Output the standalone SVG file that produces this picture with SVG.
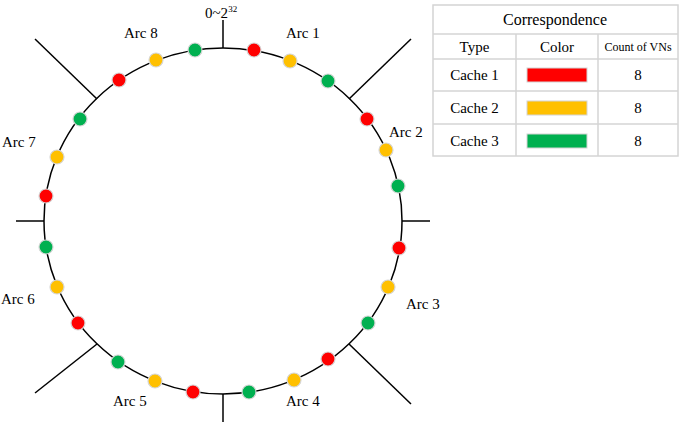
<svg xmlns="http://www.w3.org/2000/svg" width="685" height="423" viewBox="0 0 685 423">
<style>
text{font-family:"Liberation Serif","Times New Roman",serif;fill:#000}
.lbl{font-size:15px}
.ring{fill:none;stroke:#000;stroke-width:1.5}
.ln{stroke:#000;stroke-width:1.5;fill:none}
.r{fill:#FF0000}.y{fill:#FFC000}.g{fill:#00B050}
.dot{stroke:#d6d6d6;stroke-width:1.2}
.tb{fill:none;stroke:#d4d4d4;stroke-width:1.5}
.t{font-size:15px;text-anchor:middle}
.ts{font-size:12px;text-anchor:middle}
.sw{stroke:#d4d4d4;stroke-width:1}
</style>
<rect width="685" height="423" fill="#fff"/>
<g id="connectors">
<ellipse class="ring" cx="223" cy="221" rx="179" ry="173"/>
<line class="ln" x1="223" y1="20" x2="223" y2="48"/>
<line class="ln" x1="223" y1="394" x2="223" y2="422"/>
<line class="ln" x1="16" y1="221" x2="44" y2="221"/>
<line class="ln" x1="402" y1="221" x2="430" y2="221"/>
<line class="ln" x1="97" y1="99" x2="35" y2="39"/>
<line class="ln" x1="349" y1="99" x2="411" y2="39"/>
<line class="ln" x1="97" y1="344" x2="35" y2="393"/>
<line class="ln" x1="349" y1="344" x2="411" y2="404"/>
</g>
<g id="nodes">
<circle class="dot g" cx="195" cy="50" r="7"/>
<circle class="dot r" cx="254" cy="50" r="7"/>
<circle class="dot y" cx="290" cy="61" r="7"/>
<circle class="dot g" cx="328" cy="81" r="7"/>
<circle class="dot r" cx="367" cy="119" r="7"/>
<circle class="dot y" cx="386" cy="150" r="7"/>
<circle class="dot g" cx="398" cy="186" r="7"/>
<circle class="dot r" cx="399" cy="248" r="7"/>
<circle class="dot y" cx="388" cy="287" r="7"/>
<circle class="dot g" cx="368" cy="323" r="7"/>
<circle class="dot r" cx="328" cy="359" r="7"/>
<circle class="dot y" cx="294" cy="380" r="7"/>
<circle class="dot g" cx="249" cy="392" r="7"/>
<circle class="dot r" cx="193" cy="392" r="7"/>
<circle class="dot y" cx="155" cy="381" r="7"/>
<circle class="dot g" cx="118" cy="362" r="7"/>
<circle class="dot r" cx="78" cy="323" r="7"/>
<circle class="dot y" cx="57" cy="287" r="7"/>
<circle class="dot g" cx="46" cy="247" r="7"/>
<circle class="dot r" cx="46" cy="196" r="7"/>
<circle class="dot y" cx="57" cy="157" r="7"/>
<circle class="dot g" cx="80" cy="119" r="7"/>
<circle class="dot r" cx="119" cy="80" r="7"/>
<circle class="dot y" cx="156" cy="60" r="7"/>
</g>
<g id="labels">
<text class="lbl" x="205" y="18">0~2<tspan font-size="9" dy="-6">32</tspan></text>
<text class="lbl" x="286" y="38">Arc 1</text>
<text class="lbl" x="389" y="137">Arc 2</text>
<text class="lbl" x="406" y="309">Arc 3</text>
<text class="lbl" x="286" y="406">Arc 4</text>
<text class="lbl" x="113" y="406">Arc 5</text>
<text class="lbl" x="1" y="304">Arc 6</text>
<text class="lbl" x="2" y="147">Arc 7</text>
<text class="lbl" x="124" y="38">Arc 8</text>
</g>
<g id="legend">
<rect class="tb" x="433" y="5" width="245" height="151"/>
<line class="tb" x1="433" y1="34" x2="678" y2="34"/>
<line class="tb" x1="433" y1="59" x2="678" y2="59"/>
<line class="tb" x1="433" y1="91" x2="678" y2="91"/>
<line class="tb" x1="433" y1="124" x2="678" y2="124"/>
<line class="tb" x1="516" y1="34" x2="516" y2="156"/>
<line class="tb" x1="598" y1="34" x2="598" y2="156"/>
<text class="t" x="555" y="25" style="font-size:16px">Correspondence</text>
<text class="t" x="474.5" y="52">Type</text>
<text class="t" x="557" y="52">Color</text>
<text class="ts" x="638" y="51">Count of VNs</text>
<text class="t" x="474.5" y="80">Cache 1</text>
<text class="t" x="474.5" y="113">Cache 2</text>
<text class="t" x="474.5" y="146">Cache 3</text>
<rect class="sw r" x="527" y="68" width="60" height="14"/>
<rect class="sw y" x="527" y="101" width="60" height="14"/>
<rect class="sw g" x="527" y="134" width="60" height="14"/>
<text class="t" x="638" y="80">8</text>
<text class="t" x="638" y="113">8</text>
<text class="t" x="638" y="146">8</text>
</g>
</svg>
